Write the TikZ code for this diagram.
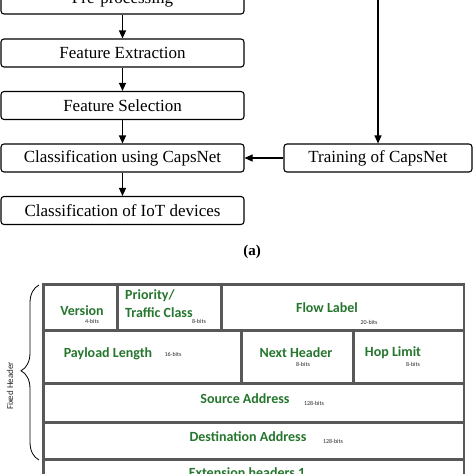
\documentclass[tikz,border=0pt]{standalone}
\usepackage{fontspec}
\setmainfont{Liberation Serif}
\newfontfamily\calibri{Carlito}
\usetikzlibrary{arrows.meta,decorations.pathreplacing}
\definecolor{tgreen}{RGB}{38,118,46}
\definecolor{tgrey}{RGB}{88,88,88}
\definecolor{sgrey}{RGB}{40,40,40}
\tikzset{
  flowbox/.style={draw, rounded corners=3pt, line width=1.1pt, minimum height=28pt, inner sep=0pt, font=\fontsize{17}{20}\selectfont},
  flowarrow/.style={line width=1.1pt, -{Triangle[length=8pt,width=7pt]}},
  cellfill/.style={fill=white},
  fieldtxt/.style={text=tgreen, font=\calibri\bfseries\fontsize{14}{16}\selectfont, inner sep=0pt},
  bitstxt/.style={text=sgrey, font=\calibri\fontsize{6}{7}\selectfont, inner sep=0pt},
}
\begin{document}
\begin{tikzpicture}[x=1pt,y=-1pt]
\useasboundingbox (0,0) rectangle (474,474);
\clip (0,0) rectangle (474,474);
\fill[white] (0,0) rectangle (474,474);
% ---------- (a) flow chart ----------
\node[flowbox, minimum width=243pt] (pre)  at (122.5,0)   {Pre-processing};
\node[flowbox, minimum width=243pt] (fe)   at (122.5,53)  {Feature Extraction};
\node[flowbox, minimum width=243pt] (fs)   at (122.5,105.5) {Feature Selection};
\node[flowbox, minimum width=243pt] (cuc)  at (122.5,158) {Classification using CapsNet};
\node[flowbox, minimum width=243pt] (ciot) at (122.5,210.5) {Classification of IoT devices};
\node[flowbox, minimum width=188pt] (train) at (378,158) {Training of CapsNet};
\coordinate (top) at (378,-20);
\draw[flowarrow] (pre) -- (fe);
\draw[flowarrow] (fe) -- (fs);
\draw[flowarrow] (fs) -- (cuc);
\draw[flowarrow] (cuc) -- (ciot);
\draw[flowarrow] (train) -- (cuc);
\draw[flowarrow] (top) -- (train);
\node[font=\bfseries\fontsize{15}{18}\selectfont] (cap) at (252,252) {(a)};
% ---------- IPv6 header ----------
\fill[tgrey] (42,283) rectangle (465,490);
% row 1
\fill[cellfill] (44.5,285.5) rectangle (115.5,328.5);
\fill[cellfill] (118.5,285.5) rectangle (219.5,328.5);
\fill[cellfill] (222.5,285.5) rectangle (462.5,328.5);
% row 2
\fill[cellfill] (44.5,331.5) rectangle (239.5,381.5);
\fill[cellfill] (242.5,331.5) rectangle (351.5,381.5);
\fill[cellfill] (354.5,331.5) rectangle (462.5,381.5);
% rows 3-5
\fill[cellfill] (44.5,384.5) rectangle (462.5,420.5);
\fill[cellfill] (44.5,423.5) rectangle (462.5,457.5);
\fill[cellfill] (44.5,460.5) rectangle (462.5,490);
% texts
\node[fieldtxt] (ver) at (82,311) {Version};
\node[bitstxt] (verb) at (92,321) {4-bits};
\node[fieldtxt, anchor=west] (pri) at (125,296) {Priority/};
\node[fieldtxt, anchor=west] (tc) at (125,313) {Traffic Class};
\node[bitstxt] (tcb) at (199,321) {8-bits};
\node[fieldtxt] (fl) at (327,308) {Flow Label};
\node[bitstxt] (flb) at (369,322) {20-bits};
\node[fieldtxt] (pl) at (108,354) {Payload Length};
\node[bitstxt] (plb) at (173,354) {16-bits};
\node[fieldtxt] (nh) at (296,353) {Next Header};
\node[bitstxt] (nhb) at (303,364) {8-bits};
\node[fieldtxt] (hl) at (393,353) {Hop Limit};
\node[bitstxt] (hlb) at (413,364) {8-bits};
\node[fieldtxt] (sa) at (245,399) {Source Address};
\node[bitstxt] (sab) at (314,403) {128-bits};
\node[fieldtxt] (da) at (248,437) {Destination Address};
\node[bitstxt] (dab) at (333,441) {128-bits};
\node[fieldtxt] (eh) at (247,473) {Extension headers 1};
% brace
\draw[line width=0.8pt, decorate, decoration={brace, amplitude=18pt, aspect=0.51}] (39,460) -- (39,285);
\node[rotate=90, text=sgrey, font=\calibri\fontsize{9}{10}\selectfont] (fh) at (10,386) {Fixed Header};
\end{tikzpicture}
\end{document}
